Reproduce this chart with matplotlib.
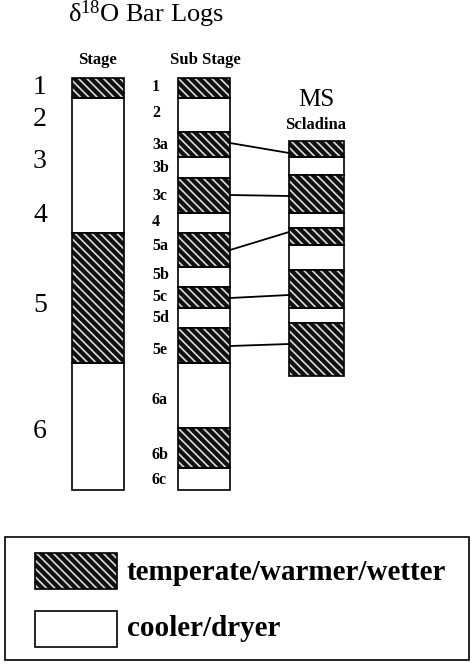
import matplotlib.pyplot as plt
from matplotlib.patches import Rectangle

plt.rcParams["font.family"] = ["Liberation Serif", "DejaVu Serif"]
plt.rcParams["hatch.linewidth"] = 1.2

# segments as (top, bottom, warm) in log depth units (pixels of the original log)
STAGE_LABELS = ["1", "2", "3", "4", "5", "6"]
STAGE_LABEL_Y = [88, 120, 162, 215, 305, 432]
STAGE_SEGS = [(78, 98, 1), (98, 233, 0), (233, 363, 1), (363, 490, 0)]

SUB_LABELS = ["1", "2", "3a", "3b", "3c", "4", "5a", "5b", "5c", "5d", "5e", "6a", "6b", "6c"]
SUB_LABEL_Y = [87, 113, 145, 168, 196, 222, 246, 275, 297, 318, 350, 400, 455, 480]
SUB_SEGS = [(78, 98, 1), (98, 132, 0), (132, 157, 1), (157, 178, 0), (178, 213, 1),
            (213, 233, 0), (233, 267, 1), (267, 287, 0), (287, 308, 1), (308, 328, 0),
            (328, 363, 1), (363, 428, 0), (428, 468, 1), (468, 490, 0)]

MS_SEGS = [(141, 157, 1), (157, 175, 0), (175, 213, 1), (213, 228, 0), (228, 245, 1),
           (245, 270, 0), (270, 308, 1), (308, 323, 0), (323, 376, 1)]

# correlation lines: (sub stage depth, MS depth)
LINKS = [(143, 153), (195, 196), (250, 232), (298, 295), (346, 344)]

fig = plt.figure(figsize=(4.74, 6.65), dpi=100)
ax = fig.add_axes([0, 0, 1, 1])
ax.set_xlim(0, 474)
ax.set_ylim(665, 0)
ax.axis("off")


def box(x, y, w, h, warm):
    if warm:
        ax.add_patch(Rectangle((x, y), w, h, facecolor="#111111", edgecolor="#dddddd",
                               hatch="\\\\\\\\", linewidth=0))
    ax.add_patch(Rectangle((x, y), w, h, facecolor="none", edgecolor="black", linewidth=1.2))


def column(x, w, segs):
    for top, bot, warm in segs:
        box(x, top, w, bot - top, warm)


column(72, 52, STAGE_SEGS)
column(178, 52, SUB_SEGS)
column(289, 55, MS_SEGS)

for a, b in LINKS:
    ax.plot([230, 289], [a, b], color="black", lw=1.3)

for lab, y in zip(STAGE_LABELS, STAGE_LABEL_Y):
    ax.text(40, y, lab, fontsize=20, ha="center", va="center")
for lab, y in zip(SUB_LABELS, SUB_LABEL_Y):
    ax.text(152, y, lab, fontsize=11.5, fontweight="bold", ha="left", va="center")

ax.text(68, 14, r"$\mathregular{\delta^{18}O}$ Bar Logs", fontsize=19, ha="left", va="center")
ax.text(97, 60, "Stage", fontsize=12, fontweight="bold", ha="center", va="center")
ax.text(205, 60, "Sub Stage", fontsize=12, fontweight="bold", ha="center", va="center")
ax.text(316, 100, "MS", fontsize=18, ha="center", va="center")
ax.text(316, 125, "Scladina", fontsize=12, fontweight="bold", ha="center", va="center")

# legend
ax.add_patch(Rectangle((5, 537), 464, 123, facecolor="none", edgecolor="black", lw=1.2))
box(35, 553, 82, 36, 1)
box(35, 611, 82, 36, 0)
ax.text(127, 573, "temperate/warmer/wetter", fontsize=21, fontweight="bold", va="center")
ax.text(127, 628, "cooler/dryer", fontsize=21, fontweight="bold", va="center")

fig.savefig("out.png", dpi=100, facecolor="white")
